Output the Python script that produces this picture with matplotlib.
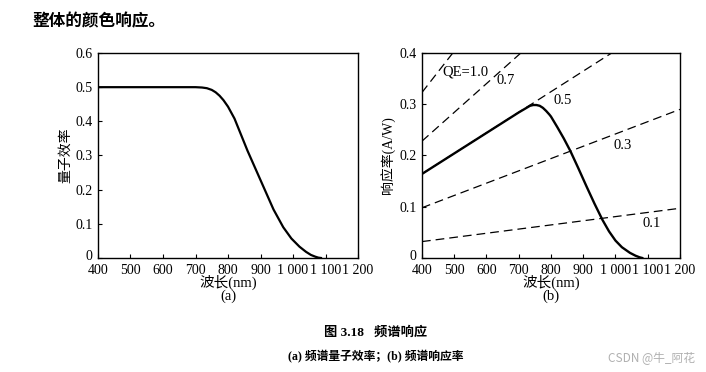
import matplotlib
matplotlib.use("Agg")
import matplotlib.pyplot as plt
import matplotlib.transforms as mtransforms

plt.rcParams['font.family'] = ['Liberation Serif', 'Noto Sans CJK SC']
plt.rcParams['axes.linewidth'] = 1.0

# --------------------------------------
# Data
# --------------------------------------
# (a) spectral quantum efficiency
wl_a = [400, 500, 600, 700, 720, 735, 750, 762, 774, 786, 800, 820, 860,
        900, 940, 970, 995, 1020, 1040, 1055, 1068, 1078, 1086]
qe_a = [0.5, 0.5, 0.5, 0.5, 0.499, 0.497, 0.492, 0.485, 0.475, 0.462,
        0.443, 0.408, 0.314, 0.228, 0.142, 0.090, 0.057, 0.033, 0.018,
        0.009, 0.004, 0.001, 0.0]

# (b) spectral responsivity
wl_b = [400, 500, 600, 700, 735, 745, 755, 765, 775, 785, 795, 800, 820,
        840, 860, 885, 910, 935, 960, 980, 1000, 1020, 1045, 1062, 1075, 1083]
resp_b = [0.164, 0.204, 0.244, 0.284, 0.297, 0.2985, 0.2985, 0.297, 0.293,
          0.287, 0.280, 0.276, 0.255, 0.233, 0.209, 0.175, 0.140, 0.106,
          0.074, 0.052, 0.034, 0.021, 0.010, 0.0045, 0.0013, 0.0]

# constant-QE reference lines (value at 400 nm and at 1200 nm)
qe_levels = ["QE=1.0", "0.7", "0.5", "0.3", "0.1"]
line_x = [400, 1200]
line_r400 = [0.323, 0.228, 0.164, 0.098, 0.032]
line_r1200 = [0.968, 0.677, 0.485, 0.290, 0.097]
label_pos = [(536, 0.363), (660, 0.347), (837, 0.308), (1023, 0.22), (1113, 0.068)]

xticks = [400, 500, 600, 700, 800, 900, 1000, 1100, 1200]
xtick_labels = ["400", "500", "600", "700", "800", "900", "1 000", "1 100", "1 200"]

# --------------------------------------
# Figure
# --------------------------------------
fig = plt.figure(figsize=(7.06, 3.72), dpi=100)

ax1 = fig.add_axes([0.1388, 0.3065, 0.3683, 0.551])
ax2 = fig.add_axes([0.5977, 0.3065, 0.3654, 0.551])

for ax in (ax1, ax2):
    ax.set_xlim(400, 1200)
    ax.set_xticks(xticks)
    ax.set_xticklabels(xtick_labels)
    ax.tick_params(direction="in", length=3, width=0.8, labelsize=10, pad=4)
    ax.tick_params(axis="y", pad=4)

# (a)
ax1.plot(wl_a, qe_a, color="black", lw=1.6)
ax1.set_ylim(0, 0.6)
ax1.set_yticks([0, 0.1, 0.2, 0.3, 0.4, 0.5, 0.6])
ax1.set_yticklabels(["0", "0.1", "0.2", "0.3", "0.4", "0.5", "0.6"])
ax1.set_ylabel("量子效率", fontsize=10, labelpad=2)
ax1.set_xlabel("波长(nm)\n(a)", fontsize=10.5, labelpad=-1, linespacing=0.95)

# (b)
for i in range(len(qe_levels)):
    ax2.plot(line_x, [line_r400[i], line_r1200[i]], color="black", lw=0.9,
             dashes=(7, 4))
    ax2.text(label_pos[i][0], label_pos[i][1], qe_levels[i], fontsize=10.5,
             ha="center", va="center")
ax2.plot(wl_b, resp_b, color="black", lw=1.7, zorder=5)
ax2.set_ylim(0, 0.4)
ax2.set_yticks([0, 0.1, 0.2, 0.3, 0.4])
ax2.set_yticklabels(["0", "0.1", "0.2", "0.3", "0.4"])
ax2.set_ylabel("响应率(A/W)", fontsize=10, labelpad=2)
ax2.set_xlabel("波长(nm)\n(b)", fontsize=10.5, labelpad=-1, linespacing=0.95)

# nudge the "0" y tick label up a little so it clears the "400" label
shift = mtransforms.ScaledTranslation(0, 2 / 72, fig.dpi_scale_trans)
for ax in (ax1, ax2):
    lab = ax.get_yticklabels()[0]
    lab.set_transform(lab.get_transform() + shift)

# --------------------------------------
# Page text
# --------------------------------------
fig.text(32 / 706, 1 - 22 / 372, "整体的颜色响应。", fontsize=12,
         ha="left", va="center", fontweight="bold")
fig.text(376 / 706, 1 - 333 / 372, "图 3.18   频谱响应", fontsize=9.5,
         ha="center", va="center", fontweight="bold")
fig.text(376 / 706, 1 - 357 / 372, "(a) 频谱量子效率；(b) 频谱响应率", fontsize=8.5,
         ha="center", va="center", fontweight="bold")
fig.text(695 / 706, 1 - 358 / 372, "CSDN @牛_阿花", fontsize=8.5,
         ha="right", va="center", color="#b0b0b0",
         family=['Noto Sans CJK SC', 'DejaVu Sans'])

plt.savefig("out.png", dpi=100)
plt.close()
